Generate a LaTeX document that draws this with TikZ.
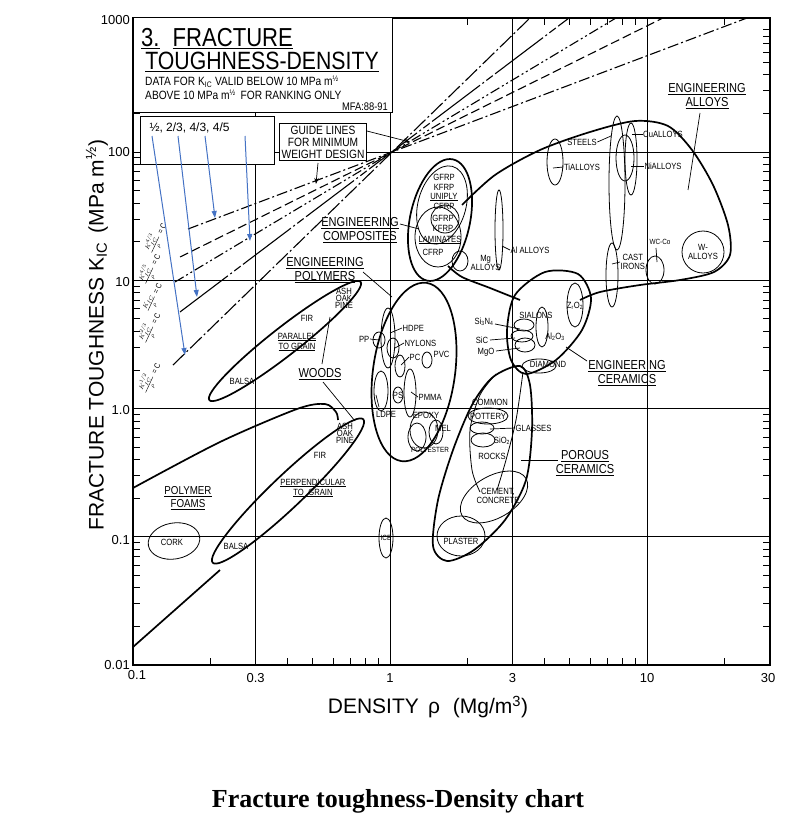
\documentclass[tikz,border=0pt]{standalone}
\usepackage{fontspec}
\setmainfont{Liberation Sans}[FakeStretch=0.85]
\newfontfamily\plainsf{Liberation Sans}
\newfontfamily\capfont{Liberation Serif}
\usetikzlibrary{arrows.meta}
\definecolor{blueann}{RGB}{68,114,196}
\newcommand\fs[1]{\fontsize{#1}{#1}\selectfont}
\newcommand\myov[5]{\draw[ov,rotate around={#5:(#1,#2)}] (#1,#2) ellipse [x radius=#3,y radius=#4];}
\tikzset{
  env/.style={line width=1.7pt},
  ov/.style={line width=0.8pt},
  grid/.style={line width=0.9pt},
  lbl/.style={font=\fs{9}, inner sep=0.5pt, align=center},
  mid/.style={font=\fs{13}, inner sep=0.5pt, align=center},
  lead/.style={line width=0.7pt},
  dd/.style={line width=1.1pt, dash pattern=on 11pt off 3pt on 2pt off 3pt},
  dsh/.style={line width=1.1pt, dash pattern=on 9pt off 4pt},
  ddd/.style={line width=1.1pt, dash pattern=on 10pt off 3pt on 2pt off 3pt on 2pt off 3pt},
  ldd/.style={line width=1.1pt, dash pattern=on 16pt off 3pt on 2pt off 3pt},
}
\begin{document}
\begin{tikzpicture}[x=1pt,y=-1pt]
\useasboundingbox (0,0) rectangle (797,832);
% grid
\foreach \gx in {255.6,390,512.6,647}{\draw[grid] (\gx,18) -- (\gx,665);}
\foreach \gy in {152,280.25,408.5,536.75}{\draw[grid] (133,\gy) -- (770,\gy);}
% ticks
\foreach \d in {0,...,4}{\foreach \m in {2,...,9}{
  \pgfmathsetmacro\yy{665-128.25*(\d+log10(\m))}
  \draw[line width=0.8pt] (133,\yy) -- ++(7,0);
  \draw[line width=0.8pt] (770,\yy) -- ++(-7,0);}}
\foreach \d/\mm in {0/9,1/9,2/3}{\foreach \m in {2,...,\mm}{
  \pgfmathsetmacro\xx{133+257*(\d+log10(\m))}
  \draw[line width=0.8pt] (\xx,665) -- ++(0,-7);
  \draw[line width=0.8pt] (\xx,18) -- ++(0,7);}}
\draw[line width=1.3pt] (133,18) rectangle (770,665);
% tick labels
\begin{scope}[every node/.style={font=\plainsf\fs{13}, inner sep=1pt}]
\node[anchor=east] (t1000) at (131,20) {1000};
\node[anchor=east] (t100) at (131,152) {100};
\node[anchor=east] (t10) at (131,282) {10};
\node[anchor=east] (t1) at (131,410) {1.0};
\node[anchor=east] (t01) at (131,540) {0.1};
\node[anchor=east] (t001) at (131,665) {0.01};
\node[anchor=north] (x01) at (137,669) {0.1};
\node[anchor=north] (x03) at (255.6,672) {0.3};
\node[anchor=north] (x1) at (390,672) {1};
\node[anchor=north] (x3) at (512.6,672) {3};
\node[anchor=north] (x10) at (647,672) {10};
\node[anchor=north] (x30) at (768,672) {30};
\end{scope}
\node[font=\plainsf\fs{21}] (xt) at (428,707) {DENSITY \,ρ \,\,(Mg/m\textsuperscript{3})};
\node[font=\plainsf\fs{21}, rotate=90] (yt) at (97,335) {FRACTURE TOUGHNESS K\textsubscript{IC} \,(MPa m\textsuperscript{½})};
\node[font=\capfont\bfseries\fs{26}] (cap) at (398,801) {Fracture toughness-Density chart};
% guide lines
\coordinate (P) at (392,152);
\draw[dd] (188,229) -- (747,18);
\draw[dsh] (180,257) -- (663,18);
\draw[ddd] (175,282) -- (616,18);
\draw[line width=1.1pt, dash pattern=on 60pt off 3pt on 2pt off 3pt on 8pt off 3pt] (180,312) -- (569,18);
\draw[ldd] (173,365) -- (530,18);
% guide labels
\begin{scope}[every node/.style={font=\fs{8}, rotate=65, inner sep=0pt}]
\node (ga) at (156,238) {$\frac{K^{4/3}_{IC}}{\rho}$ = C};
\node (gb) at (150,269) {$\frac{K^{4/5}_{IC}}{\rho}$ = C};
\node (gc) at (154,298) {$\frac{K_{IC}}{\rho}$ = C};
\node (gd) at (150,328) {$\frac{K^{2/3}_{IC}}{\rho}$ = C};
\node (ge) at (150,378) {$\frac{K^{1/2}_{IC}}{\rho}$ = C};
\end{scope}
% title box
\draw[line width=1pt, fill=white] (133,18) rectangle (392,113);
\node[anchor=west, font=\fs{26}, inner sep=0] (tt1) at (141,39) {\underline{3.}\,\,\,\underline{FRACTURE}};
\node[font=\fs{25}, inner sep=0] (tt2) at (262,62) {\underline{TOUGHNESS-DENSITY}};
\node[anchor=west, font=\fs{12}, inner sep=0] (tt3) at (145,82) {DATA FOR K\textsubscript{IC} VALID BELOW 10 MPa m\textsuperscript{½}};
\node[anchor=west, font=\fs{12}, inner sep=0] (tt4) at (145,95) {ABOVE 10 MPa m\textsuperscript{½} \,FOR RANKING ONLY};
\node[anchor=east, font=\fs{11}, inner sep=0] (tt5) at (388,107) {MFA:88-91};
% blue box
\draw[line width=0.8pt, fill=white] (140,116) rectangle (274,164);
\node[font=\plainsf\fs{12}, anchor=west] (bl) at (146,128) {½, 2/3, 4/3, 4/5};
\draw[blueann, line width=1pt, -{Triangle[length=7pt,width=5pt]}] (152,136) -- (185,355);
\draw[blueann, line width=1pt, -{Triangle[length=7pt,width=5pt]}] (178,136) -- (197,297);
\draw[blueann, line width=1pt, -{Triangle[length=7pt,width=5pt]}] (205,136) -- (215,218);
\draw[blueann, line width=1pt, -{Triangle[length=7pt,width=5pt]}] (245,136) -- (250,241);
% guide box
\node[draw, line width=1pt, fill=white, font=\fs{12}, align=center, inner sep=2pt, minimum width=86pt] (gbox) at (323,142) {GUIDE LINES\\FOR MINIMUM\\WEIGHT DESIGN};
\draw[lead, -{Stealth[length=6pt]}] (gbox.east |- 0,131) -- (410,142);
\draw[lead, -{Stealth[length=6pt]}] (318,163) -- (316,184);
% ---------- alloys
\draw[env] plot[smooth] coordinates {(462,205) (495,175) (540,150) (590,132) (635,121) (668,126) (692,150) (713,185) (728,225) (730,255) (714,272) (680,280) (640,285) (600,292) (580,300)};
\draw[env] plot[smooth] coordinates {(520,300) (490,288) (462,277) (448,266)};
\myov{617}{183}{8}{67}{0}
\myov{631}{159}{6}{36}{0}
\myov{625}{158}{9}{23}{0}
\myov{555}{162}{8}{23}{0}
\myov{612}{275}{6}{32}{0}
\myov{655}{270}{9}{14}{0}
\draw[ov] (703,252) circle (21);
\myov{499}{230}{4}{40}{0}
\myov{460}{261}{8}{10}{0}
\node[lbl] (steels) at (582,142) {STEELS};
\draw[lead] (steels.east) -- (611,136);
\node[lbl] (cu) at (663,134) {CuALLOYS};
\draw[lead] (cu.west) -- (632,134);
\node[lbl] (ni) at (663,166) {NiALLOYS};
\draw[lead] (ni.west) -- (631,166);
\node[lbl] (ti) at (582,167) {TiALLOYS};
\draw[lead] (ti.west) -- (553,168);
\node[lbl, anchor=west] (ci) at (620,262) {CAST\\IRONS};
\draw[lead] (620,262) -- (612,264);
\node[lbl, font=\fs{7.5}] (wc) at (660,242) {WC-Co};
\draw[lead] (656,248) -- (657,262);
\node[lbl] (wal) at (703,252) {W-\\ALLOYS};
\node[lbl, anchor=west] (al) at (510,250) {Al ALLOYS};
\draw[lead] (510,250) -- (502,246);
\node[lbl, anchor=west] (mg) at (470,263) {Mg\\ALLOYS};
\node[mid] (ealloys) at (707,96) {\underline{ENGINEERING}\\[1pt]\underline{ALLOYS}};
\draw[lead] (700,113) -- (688,190);
% ---------- composites
\draw[env, rotate around={-12:(440,220)}] (440,220) ellipse [x radius=30, y radius=62];
\myov{442}{205}{24}{40}{-15}
\myov{438}{237}{23}{30}{0}
\draw[ov] (445,219) circle (14);
\node[lbl] (cp1) at (444,177) {GFRP};
\node[lbl] (cp2) at (444,187) {KFRP};
\node[lbl] (cp3) at (444,197) {\underline{UNIPLY}};
\node[lbl] (cp4) at (444,206) {CFRP};
\node[lbl] (cp5) at (443,218) {GFRP};
\node[lbl] (cp6) at (443,228) {KFRP};
\node[lbl] (cp7) at (440,240) {\underline{LAMINATES}};
\node[lbl] (cp8) at (433,252) {CFRP};
\node[mid] (ecomp) at (360,230) {\underline{ENGINEERING}\\[1pt]\underline{COMPOSITES}};
\draw[lead] (400,224) -- (419,229);
% ---------- polymers
\draw[env, rotate around={-8:(414,372)}] (414,372) ellipse [x radius=41, y radius=90];
\myov{388}{338}{7}{30}{0}
\myov{379}{340}{6}{8}{0}
\myov{393}{348}{6}{10}{0}
\myov{400}{366}{5}{11}{0}
\myov{427}{360}{5}{8}{0}
\myov{381}{391}{7}{20}{0}
\myov{398}{395}{5}{8}{0}
\myov{410}{393}{6}{24}{0}
\myov{424}{430}{14}{18}{0}
\myov{436}{432}{7}{12}{0}
\myov{417}{437}{9}{14}{0}
\node[lbl, anchor=east] (pp) at (370,339) {PP};
\draw[lead] (370,339) -- (379,340);
\node[lbl, anchor=west] (hdpe) at (402,328) {HDPE};
\draw[lead] (402,328) -- (390,333);
\node[lbl, anchor=west] (nyl) at (404,343) {NYLONS};
\draw[lead] (404,343) -- (395,348);
\node[lbl, anchor=west] (pc) at (409,357) {PC};
\draw[lead] (409,357) -- (401,365);
\node[lbl, anchor=west] (pvc) at (433,354) {PVC};
\node[lbl] (ps) at (398,395) {PS};
\node[lbl, anchor=west] (pmma) at (418,397) {PMMA};
\draw[lead] (418,397) -- (411,392);
\node[lbl] (ldpe) at (386,414) {LDPE};
\draw[lead] (379,407) -- (376,395);
\node[lbl] (epoxy) at (426,415) {EPOXY};
\node[lbl] (mel) at (443,428) {MEL};
\node[lbl, font=\fs{7.5}] (poly) at (430,450) {POLYESTER};
\node[mid] (epoly) at (325,270) {\underline{ENGINEERING}\\[1pt]\underline{POLYMERS}};
\draw[lead] (363,272) -- (392,297);
% ---------- engineering ceramics
\draw[env] plot[smooth cycle] coordinates {(507,330) (515,295) (545,272) (578,274) (591,298) (582,330) (556,360) (526,374) (511,360)};
\myov{575}{305}{8}{22}{0}
\myov{524}{325}{10}{6}{0}
\myov{542}{327}{6}{20}{0}
\myov{522}{336}{11}{6}{0}
\myov{525}{345}{10}{7}{0}
\myov{539}{366}{17}{7}{0}
\node[lbl] (zr) at (575,306) {Z\textsubscript{r}O\textsubscript{2}};
\node[lbl] (sial) at (536,315) {SIALONS};
\node[lbl] (si3) at (484,322) {Si\textsubscript{3}N\textsubscript{4}};
\draw[lead] (495,324) -- (520,329);
\node[lbl] (alo) at (555,337) {Al\textsubscript{2}O\textsubscript{3}};
\node[lbl] (sic) at (482,340) {SiC};
\draw[lead] (490,340) -- (515,338);
\node[lbl] (mgo) at (486,352) {MgO};
\draw[lead] (496,351) -- (520,348);
\node[lbl] (dia) at (548,364) {DIAMOND};
\node[mid] (ecer) at (627,373) {\underline{ENGINEERING}\\[1pt]\underline{CERAMICS}};
\draw[lead] (566,347) -- (587,361);
% ---------- porous ceramics
\draw[env] plot[smooth cycle] coordinates {(520,366) (530,385) (532,430) (526,480) (505,520) (474,550) (447,561) (433,546) (438,500) (453,450) (472,405) (493,377)};
\draw[ov] plot[smooth] coordinates {(496,374) (480,395) (470,430) (472,470) (480,492)};
\draw[ov] plot[smooth] coordinates {(523,372) (516,420) (506,460) (497,490)};
\myov{488}{416}{20}{8}{0}
\myov{482}{428}{12}{6}{0}
\myov{483}{440}{12}{7}{0}
\myov{494}{497}{37}{21}{30}
\myov{461}{536}{24}{20}{0}
\node[lbl] (common) at (490,402) {COMMON};
\node[lbl] (pot) at (488,416) {POTTERY};
\node[lbl, anchor=west] (glass) at (515,428) {GLASSES};
\draw[lead] (515,428) -- (490,429);
\node[lbl] (sio) at (502,441) {SiO\textsubscript{2}};
\node[lbl] (rocks) at (492,456) {ROCKS};
\node[lbl] (cem) at (498,496) {CEMENT,\\CONCRETE};
\node[lbl] (plast) at (461,541) {PLASTER};
\node[mid] (epor) at (585,463) {\underline{POROUS}\\[1pt]\underline{CERAMICS}};
\draw[lead] (521,460) -- (558,460);
% ---------- ice
\myov{386}{538}{7}{20}{0}
\node[lbl, font=\fs{7.5}] (ice) at (386,538) {ICE};
% ---------- woods
\draw[env, rotate around={38:(285,341)}] (285,341) ellipse [x radius=96, y radius=14];
\draw[env, rotate around={43.6:(288,491)}] (288,491) ellipse [x radius=104, y radius=16];
\node[lbl] (w1) at (344,298) {ASH\\[-2pt]OAK\\[-2pt]PINE};
\node[lbl] (w2) at (307,318) {FIR};
\node[lbl] (w3) at (297,342) {\underline{PARALLEL}\\[1pt]\underline{TO GRAIN}};
\node[lbl] (w4) at (242,381) {BALSA};
\node[mid] (woods) at (320,374) {\underline{WOODS}};
\draw[lead] (322,364) -- (330,317);
\draw[lead] (323,382) -- (355,421);
\node[lbl] (p1) at (345,433) {ASH\\[-2pt]OAK\\[-2pt]PINE};
\node[lbl] (p2) at (320,455) {FIR};
\node[lbl] (p3) at (313,488) {\underline{PERPENDICULAR}\\[1pt]\underline{TO\,\,\,GRAIN}};
\node[lbl] (p4) at (236,546) {BALSA};
% ---------- polymer foams
\draw[env] plot[smooth] coordinates {(133,488) (220,442) (297,409) (325,404) (336,412) (338,420)};
\draw[env] (133,647) -- (220,570);
\myov{174}{541}{26}{18}{10}
\node[lbl] (cork) at (172,542) {CORK};
\node[mid, font=\fs{11.5}] (foams) at (188,498) {\underline{POLYMER}\\[1pt]\underline{FOAMS}};
\end{tikzpicture}
\end{document}
